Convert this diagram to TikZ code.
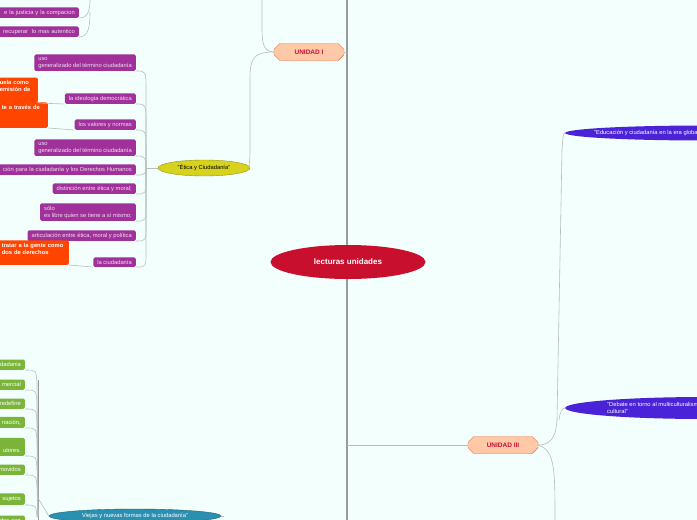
\documentclass[tikz,border=0pt]{standalone}
\usepackage{fontspec}
\setmainfont{Liberation Sans}
\usetikzlibrary{shapes.geometric,shapes.misc}
\definecolor{bg}{HTML}{F3FFFC}
\definecolor{purp}{HTML}{A0309A}
\definecolor{oran}{HTML}{FF4500}
\definecolor{grn}{HTML}{7AB53A}
\definecolor{cred}{HTML}{C8102E}
\definecolor{unitf}{HTML}{FFC9A8}
\definecolor{unitd}{HTML}{E86A3A}
\definecolor{blu}{HTML}{4A22D8}
\definecolor{teal}{HTML}{2A90B0}
\definecolor{yel}{HTML}{D6D21E}
\definecolor{ln}{HTML}{B8BEBC}
\tikzset{
 x=1pt,y=-1pt,
 lf/.style={font=\fontsize{5.8}{7}\selectfont},
 pbox/.style={lf,fill=purp,text=white!85!purp,rounded corners=1.5pt,inner xsep=4pt,inner ysep=2.5pt,align=left,anchor=south east},
 obox/.style={font=\fontsize{5.8}{7}\bfseries,fill=oran,text=white,rounded corners=1.5pt,inner xsep=4pt,inner ysep=2.5pt,anchor=south east},
 gbox/.style={lf,fill=grn,text=white,rounded corners=1.5pt,inner xsep=4pt,inner ysep=3pt,anchor=south east,align=right,text width=52pt},
 unit/.style={chamfered rectangle,chamfered rectangle xsep=5pt,draw=unitd,fill=unitf,text=cred,font=\fontsize{6.5}{7}\bfseries,minimum width=70pt,minimum height=17pt,inner sep=0pt},
 bell/.style={ellipse,fill=blu,minimum width=280pt,inner sep=0pt,anchor=west},
 btxt/.style={text=white,font=\fontsize{5.8}{7}\selectfont,anchor=west,align=left,inner sep=0pt},
 con/.style={draw=ln,line width=0.6pt},
 trunk/.style={draw=gray!80,line width=1.2pt},
}
\begin{document}
\begin{tikzpicture}
\fill[bg] (0,0) rectangle (697,520);
\useasboundingbox (0,0) rectangle (697,520);
\draw[trunk] (347,0) -- (347,520);
\node[ellipse,fill=cred,text=white,font=\fontsize{8}{9}\bfseries,minimum width=155pt,minimum height=34pt,inner sep=0pt] (c) at (348,262) {lecturas unidades};
\node[unit] (u1) at (309,52) {UNIDAD I};
\node[unit] (u3) at (503,445) {UNIDAD III};
\draw[con] (u1.east) -- (347,52);
\draw[con] (347,445) -- (u3.west);
\node[ellipse,fill=yel,draw=yel!70!black,font=\fontsize{5.8}{7}\selectfont,minimum width=92pt,minimum height=16pt,inner sep=0pt] (et) at (204,168) {"Ética y Ciudadanía"};
\draw[con] (u1.west) .. controls (262,52) and (262,40) .. (262,25) -- (262,0);
\draw[con] (u1.west) .. controls (252,52) and (250,60) .. (250,80) -- (250,150) .. controls (250,165) and (248,168) .. (et.east);
\node[bell,minimum height=15pt] (b1) at (565,133) {};
\node[btxt] (b1t) at (594,133) {"Educación y ciudadanía en la era global"};
\node[bell,minimum height=22pt] (b2) at (565,408) {};
\node[btxt] (b2t) at (607,408) {"Debate en torno al multiculturalismo y la diversidad\\cultural"};
\draw[con] (u3.east) .. controls (555,445) and (556,430) .. (557,420) -- (562,150) .. controls (563,138) and (563,133) .. (b1.west);
\draw[con] (559,420) .. controls (560,412) and (562,408) .. (b2.west);
\draw[con] (u3.east) .. controls (555,450) and (555,470) .. (555,520);
\node[pbox,text width=92pt,align=right] (p0a) at (79,18) {e la justicia y la compacion};
\node[pbox,text width=92pt,align=right] (p0b) at (79,37) {recuperar\ \ lo mas autentico};
\draw[con] (p0a.south east) .. controls (88,18) and (90,10) .. (90,0);
\draw[con] (p0b.south east) .. controls (88,37) and (90,28) .. (90,12);
\node[pbox] (p1) at (136,71) {uso\\generalizado del término ciudadanía};
\node[pbox] (p2) at (136,104) {la ideología democrática};
\node[pbox] (p3) at (136,130) {los valores y normas};
\node[pbox] (p4) at (136,156) {uso\\generalizado del término ciudadanía};
\node[pbox,text width=150pt,align=right] (p5) at (136,175) {ción para la ciudadanía y los Derechos Humanos};
\node[pbox] (p6) at (136,194) {distinción entre ética y moral;};
\node[pbox] (p7) at (136,221) {sólo\\es libre quien se tiene a sí mismo;};
\node[pbox] (p8) at (136,241) {articulación entre ética, moral y política};
\node[pbox] (p9) at (136,267) {la ciudadanía};
\foreach \n/\yy in {p1/71,p2/104,p3/130,p4/156}
  \draw[con] (\n.south east) .. controls (146,\yy) .. (146,\yy+20) -- (146,168);
\foreach \n/\yy in {p5/175,p6/194,p7/221,p8/241,p9/267}
  \draw[con] (\n.south east) .. controls (146,\yy) .. (146,\yy-15) -- (146,168);
\draw[con] (146,168) -- (et.west);
\node[obox,align=left,text width=62pt] (o1) at (38,103) {\hspace*{28pt}uela como\\\hspace*{28pt}emisión de\\\strut};
\node[obox,align=left,text width=92pt] (o2) at (48,128) {\hspace*{50pt}te a través de la\\\strut};
\node[obox,align=left,text width=102pt] (o3) at (69,265) {\hspace*{39pt}tratar a la gente como\\\hspace*{39pt}dos de derechos iguales};
\draw[con] (o1.south east) -- (p2.south west);
\draw[con] (o2.south east) -- (p3.south west);
\draw[con] (o3.south east) -- (p9.south west);
\node[gbox] (g1) at (25,370) {dadania};
\node[gbox] (g2) at (25,390) {mercial};
\node[gbox] (g3) at (25,409) {redefine};
\node[gbox] (g4) at (25,428) {nación,};
\node[gbox] (g5) at (25,456) {\strut\\utores.};
\node[gbox] (g6) at (25,475) {movidos};
\node[gbox] (g7) at (25,505) {sujetos};
\node[gbox] (g8) at (25,526) {dos con};
\node[ellipse,fill=teal,draw=teal!70!black,text=white,font=\fontsize{5.8}{7}\selectfont,minimum width=172pt,minimum height=14pt,inner sep=0pt] (v) at (135,516) {Viejas y nuevas formas de la ciudadanía"};
\draw[trunk,line width=1pt] (38,380) -- (38,520);
\foreach \n/\yy in {g1/370,g2/390,g3/409,g4/428,g5/456,g6/475,g7/505}
  \draw[con] (\n.south east) .. controls (36,\yy) .. (37,\yy+12) -- (38,516);
\draw[con] (38,498) -- (v.west);
\draw[con] (v.east) -- (224,516);
\end{tikzpicture}
\end{document}
